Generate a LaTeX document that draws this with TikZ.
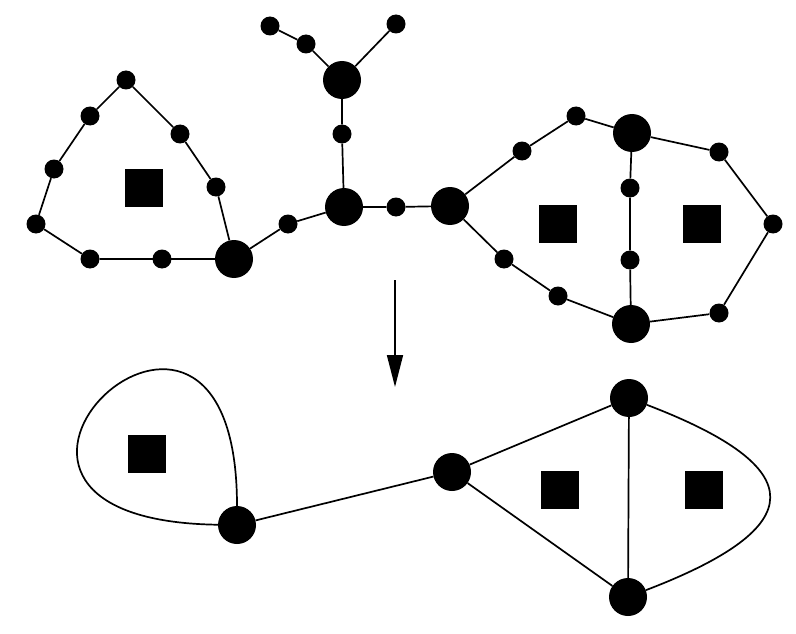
\documentclass[tikz,border=0pt]{standalone}
\usepackage{tikz}
\usetikzlibrary{arrows.meta}
\tikzset{
  gdot/.style={circle,fill=black,inner sep=0pt,minimum size=19pt},
  gjoint/.style={gdot,minimum size=38pt},
  gface/.style={rectangle,fill=black,inner sep=0pt,minimum size=38pt},
  glink/.style={draw=black,line width=1.7pt},
  gmap/.style={-{Triangle[length=32pt,width=16pt]},line width=1.7pt}
}

\begin{document}
\begin{tikzpicture}[x=1pt,y=-1pt]
  \useasboundingbox (0,0) rectangle (796,634);
  % before
  \node[gjoint] (hubL) at (234,259) {};
  \node[gjoint] (hubC) at (344,207) {};
  \node[gjoint] (hubT) at (342,80) {};
  \node[gjoint] (hubR) at (450,206) {};
  \node[gjoint] (hubN) at (632,133) {};
  \node[gjoint] (hubS) at (631,324) {};
  \node[gdot] (l1) at (126,80) {};
  \node[gdot] (l2) at (90,116) {};
  \node[gdot] (l3) at (54,169) {};
  \node[gdot] (l4) at (36,224) {};
  \node[gdot] (l5) at (90,259) {};
  \node[gdot] (l6) at (162,259) {};
  \node[gdot] (l7) at (216,187) {};
  \node[gdot] (l8) at (180,134) {};
  \node[gface] (faceL) at (144,188) {};
  \node[gdot] (m1) at (288,224) {};
  \node[gdot] (m2) at (342,134) {};
  \node[gdot] (m3) at (306,44) {};
  \node[gdot] (m4) at (270,26) {};
  \node[gdot] (m5) at (396,24) {};
  \node[gdot] (m6) at (396,207) {};
  \node[gdot] (r1) at (522,151) {};
  \node[gdot] (r2) at (576,116) {};
  \node[gdot] (r3) at (719,152) {};
  \node[gdot] (r4) at (773,224) {};
  \node[gdot] (r5) at (719,313) {};
  \node[gdot] (r6) at (558,296) {};
  \node[gdot] (r7) at (504,259) {};
  \node[gdot] (r8) at (630,188) {};
  \node[gdot] (r9) at (630,260) {};
  \node[gface] (faceA) at (558,224) {};
  \node[gface] (faceB) at (702,224) {};
  \draw[glink] (hubL) -- (l5) -- (l4) -- (l3) -- (l2) -- (l1) -- (l8) -- (l7) -- (hubL);
  \draw[glink] (l5) -- (l6) -- (hubL);
  \draw[glink] (hubL) -- (m1) -- (hubC) -- (m6) -- (hubR);
  \draw[glink] (hubC) -- (m2) -- (hubT) -- (m3) -- (m4);
  \draw[glink] (hubT) -- (m5);
  \draw[glink] (hubR) -- (r1) -- (r2) -- (hubN) -- (r3) -- (r4) -- (r5) -- (hubS);
  \draw[glink] (hubS) -- (r6) -- (r7) -- (hubR);
  \draw[glink] (hubN) -- (r8) -- (r9) -- (hubS);
  % map
  \coordinate (mapfrom) at (395,280);
  \coordinate (mapto) at (395,387);
  \draw[gmap] (mapfrom) -- (mapto);
  % after
  \node[gjoint] (endL) at (237,525) {};
  \node[gjoint] (endM) at (452,472) {};
  \node[gjoint] (endT) at (629,398) {};
  \node[gjoint] (endB) at (628,597) {};
  \node[gface] (faceC) at (147,454) {};
  \node[gface] (faceD) at (560,490) {};
  \node[gface] (faceE) at (704,490) {};
  \draw[glink] (endL) .. controls (237,190) and (-110,520) .. (endL);
  \draw[glink] (endL) -- (endM) -- (endT) -- (endB) -- (endM);
  \draw[glink] (endT) .. controls (812,468) and (811,527) .. (endB);
\end{tikzpicture}
\end{document}
